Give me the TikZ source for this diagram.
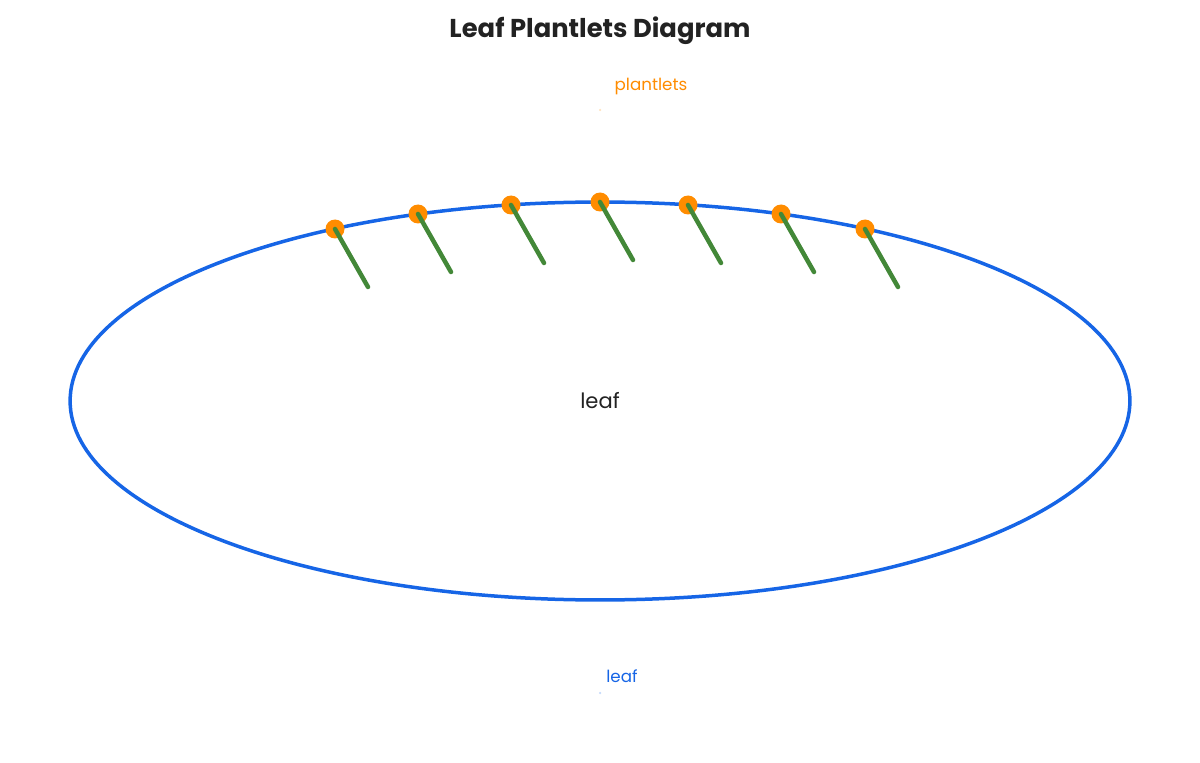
\documentclass[tikz,border=0pt]{standalone}
\usepackage{fontspec}
\setmainfont{Poppins}
\usetikzlibrary{shapes.geometric, positioning, calc}
\definecolor{LeafBlue}{RGB}{22,101,230}
\definecolor{PlantOrange}{RGB}{255,140,0}
\definecolor{StemGreen}{RGB}{67,136,56}
\definecolor{TitleGray}{RGB}{34,34,34}

\begin{document}
\begin{tikzpicture}[x=0.02cm, y=-0.02cm,
  leafshape/.style={ellipse, draw=LeafBlue, line width=0.07cm, inner sep=0pt,
    minimum width=21.2cm, minimum height=7.96cm, text=TitleGray, font=\fontsize{12}{14}\selectfont},
  plantlet/.style={circle, fill=PlantOrange, inner sep=0pt, minimum size=0.38cm},
  stem/.style={StemGreen, line width=0.09cm, line cap=round},
  tag/.style={font=\fontsize{9.5}{11}\selectfont, inner sep=0pt},
  pin/.style={circle, inner sep=0pt, minimum size=0.05cm}]
\useasboundingbox (0,0) rectangle (1200,763);
\node[font=\bfseries\fontsize{14.7}{17}\selectfont, text=TitleGray] (title) at (600,31) {Leaf Plantlets Diagram};
\node[leafshape] (leaf) at (600,401) {leaf};
\node[plantlet] (p1) at (335,229) {};
\node[plantlet] (p2) at (418,214) {};
\node[plantlet] (p3) at (511,205) {};
\node[plantlet] (p4) at (600,202) {};
\node[plantlet] (p5) at (688,205) {};
\node[plantlet] (p6) at (781,214) {};
\node[plantlet] (p7) at (865,229) {};
\coordinate (s1) at ($(p1)+(33,58)$);
\coordinate (s2) at ($(p2)+(33,58)$);
\coordinate (s3) at ($(p3)+(33,58)$);
\coordinate (s4) at ($(p4)+(33,58)$);
\coordinate (s5) at ($(p5)+(33,58)$);
\coordinate (s6) at ($(p6)+(33,58)$);
\coordinate (s7) at ($(p7)+(33,58)$);
\draw[stem] (p1.center) -- (s1);
\draw[stem] (p2.center) -- (s2);
\draw[stem] (p3.center) -- (s3);
\draw[stem] (p4.center) -- (s4);
\draw[stem] (p5.center) -- (s5);
\draw[stem] (p6.center) -- (s6);
\draw[stem] (p7.center) -- (s7);
% labels
\node[pin, fill=PlantOrange!25] (plantletspin) at (600,110) {};
\node[tag, text=PlantOrange] (plantletstag) at (651,86) {plantlets};
\node[pin, fill=LeafBlue!25] (leafpin) at (600,693) {};
\node[tag, text=LeafBlue] (leaftag) at (622,676) {leaf};
\end{tikzpicture}
\end{document}
